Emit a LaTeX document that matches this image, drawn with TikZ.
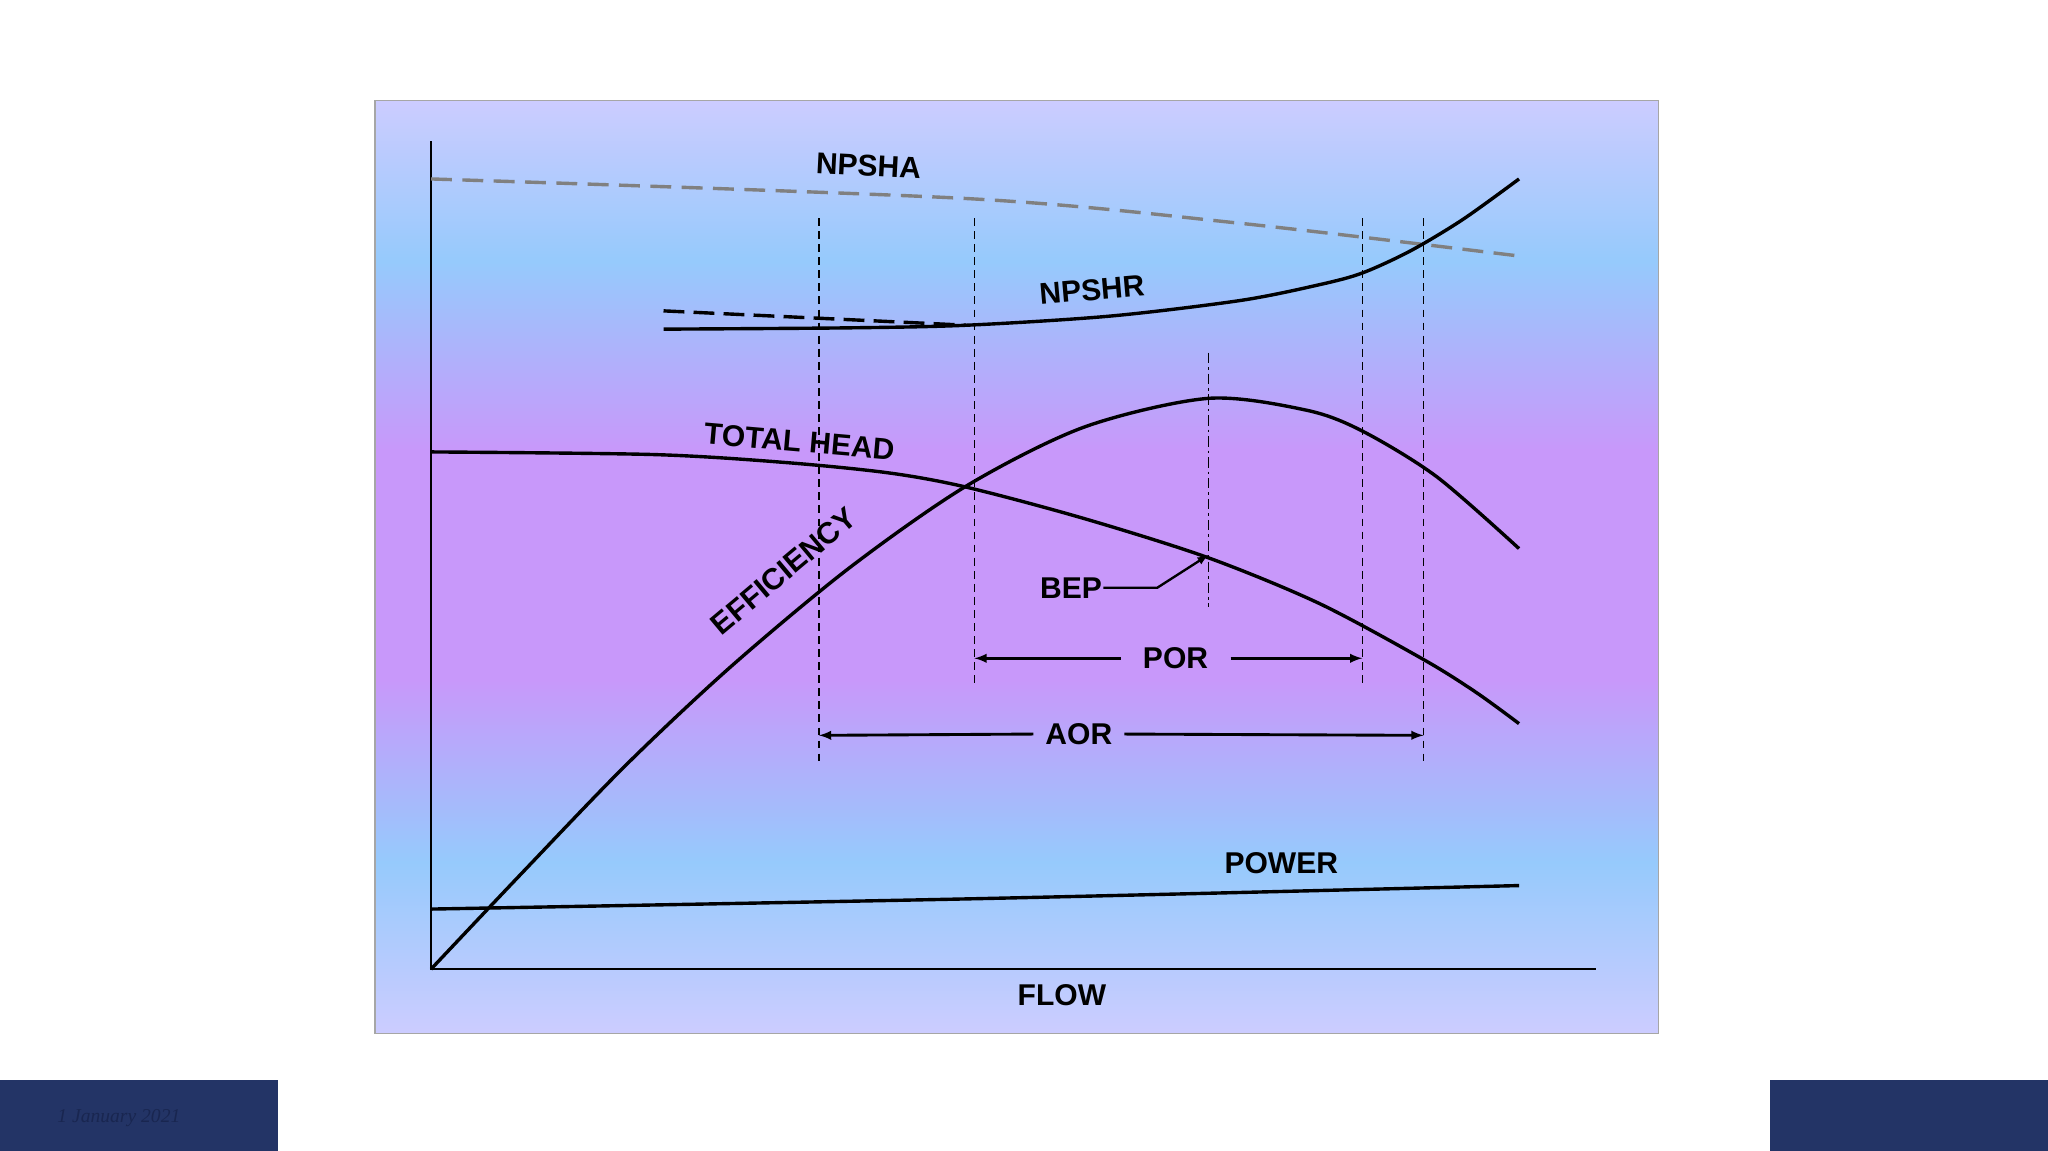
\documentclass[tikz,border=0pt]{standalone}
\usepackage{fontspec}
\setmainfont{Liberation Sans}
\newfontfamily\serifit{Liberation Serif}
\begin{document}
\begin{tikzpicture}[x=1pt,y=-1pt,
  crv/.style={line width=2.6pt,black},
  vdash/.style={line width=0.9pt,dash pattern=on 6pt off 4pt},
  lbl/.style={font=\bfseries\fontsize{23}{28}\selectfont,inner sep=1pt},
  bar/.style={fill={rgb,255:red,35;green,52;blue,102},draw=none}]
\definecolor{lav}{RGB}{204,204,255}
\definecolor{lblue}{RGB}{150,202,252}
\definecolor{purp}{RGB}{200,152,250}
\useasboundingbox (0,0) rectangle (1568,881);
\fill[white] (0,0) rectangle (1568,881);
% panel gradient
\shade[top color=lav,bottom color=lblue] (287,77) rectangle (1270,200);
\shade[top color=lblue,bottom color=purp] (287,200) rectangle (1270,345);
\fill[purp] (287,345) rectangle (1270,520);
\shade[top color=purp,bottom color=lblue] (287,520) rectangle (1270,660);
\shade[top color=lblue,bottom color=lav] (287,660) rectangle (1270,791);
\draw[gray!70,line width=1pt] (287,77) rectangle (1270,791);
% axes
\coordinate (o) at (330,742);
\coordinate (ytop) at (330,108);
\coordinate (xend) at (1222,742);
\draw[line width=1.8pt] (ytop) -- (o) -- (xend);
% vertical dashed lines
\draw[vdash] (627,167) -- (627,583);
\draw[vdash] (746,167) -- (746,524);
\draw[vdash] (1043,167) -- (1043,524);
\draw[vdash] (1090,167) -- (1090,583);
\draw[line width=0.9pt,dash pattern=on 8pt off 3pt on 2pt off 3pt] (925,270) -- (925,465);
% NPSHA
\draw[gray,line width=2.6pt,dash pattern=on 16pt off 8pt] plot[smooth] coordinates {(330,137) (740,152) (950,171) (1163,196)};
% NPSHR
\draw[crv] plot[smooth] coordinates {(508,252) (650,251) (740,249) (850,242) (950,230) (1010,218) (1043,209) (1080,192) (1120,168) (1163,137)};
\draw[crv,dash pattern=on 16pt off 7pt] (508,238) -- (740,249);
% total head
\draw[crv] plot[smooth] coordinates {(330,346) (500,348) (600,354) (680,362) (740,373) (830,397) (925,427) (1010,462) (1090,505) (1130,530) (1163,554)};
% efficiency
\draw[crv] plot[smooth] coordinates {(330,742) (400,668) (480,585) (560,510) (650,435) (740,372) (830,327) (925,305) (1000,314) (1043,330) (1100,365) (1163,420)};
% power
\draw[crv] plot[smooth] coordinates {(330,696) (750,688) (1163,678)};
% labels
\node[lbl,rotate=-3] (npsha) at (665,127) {NPSHA};
\node[lbl,rotate=5] (npshr) at (836,222) {NPSHR};
\node[lbl,rotate=-5] (th) at (612,338) {TOTAL HEAD};
\node[lbl,rotate=40] (eff) at (600,437) {EFFICIENCY};
\node[lbl] (pow) at (981,661) {POWER};
\node[lbl] (flow) at (813,762) {FLOW};
\node[lbl] (bep) at (820,450) {BEP};
\coordinate (bept) at (925,425);
\draw[line width=1.8pt,-latex] (bep.east) -- (886,450) -- (bept);
% POR / AOR
\node[lbl] (por) at (900,504) {POR};
\node[lbl] (aor) at (826,562) {AOR};
\coordinate (pl) at (746,504); \coordinate (pr) at (1043,504);
\coordinate (al) at (627,563); \coordinate (ar) at (1090,563);
\draw[line width=2.2pt,-latex] ([xshift=-16pt]por.west) -- (pl);
\draw[line width=2.2pt,-latex] ([xshift=16pt]por.east) -- (pr);
\draw[line width=2.2pt,-latex] ([xshift=-8pt]aor.west) -- (al);
\draw[line width=2.2pt,-latex] ([xshift=8pt]aor.east) -- (ar);
% footer
\fill[bar] (0,827) rectangle (213,881);
\fill[bar] (1355,827) rectangle (1568,881);
\node[font=\serifit\itshape\fontsize{15}{18}\selectfont,text={rgb,255:red,25;green,38;blue,80}] (date) at (91,856) {1 January 2021};
\end{tikzpicture}
\end{document}
